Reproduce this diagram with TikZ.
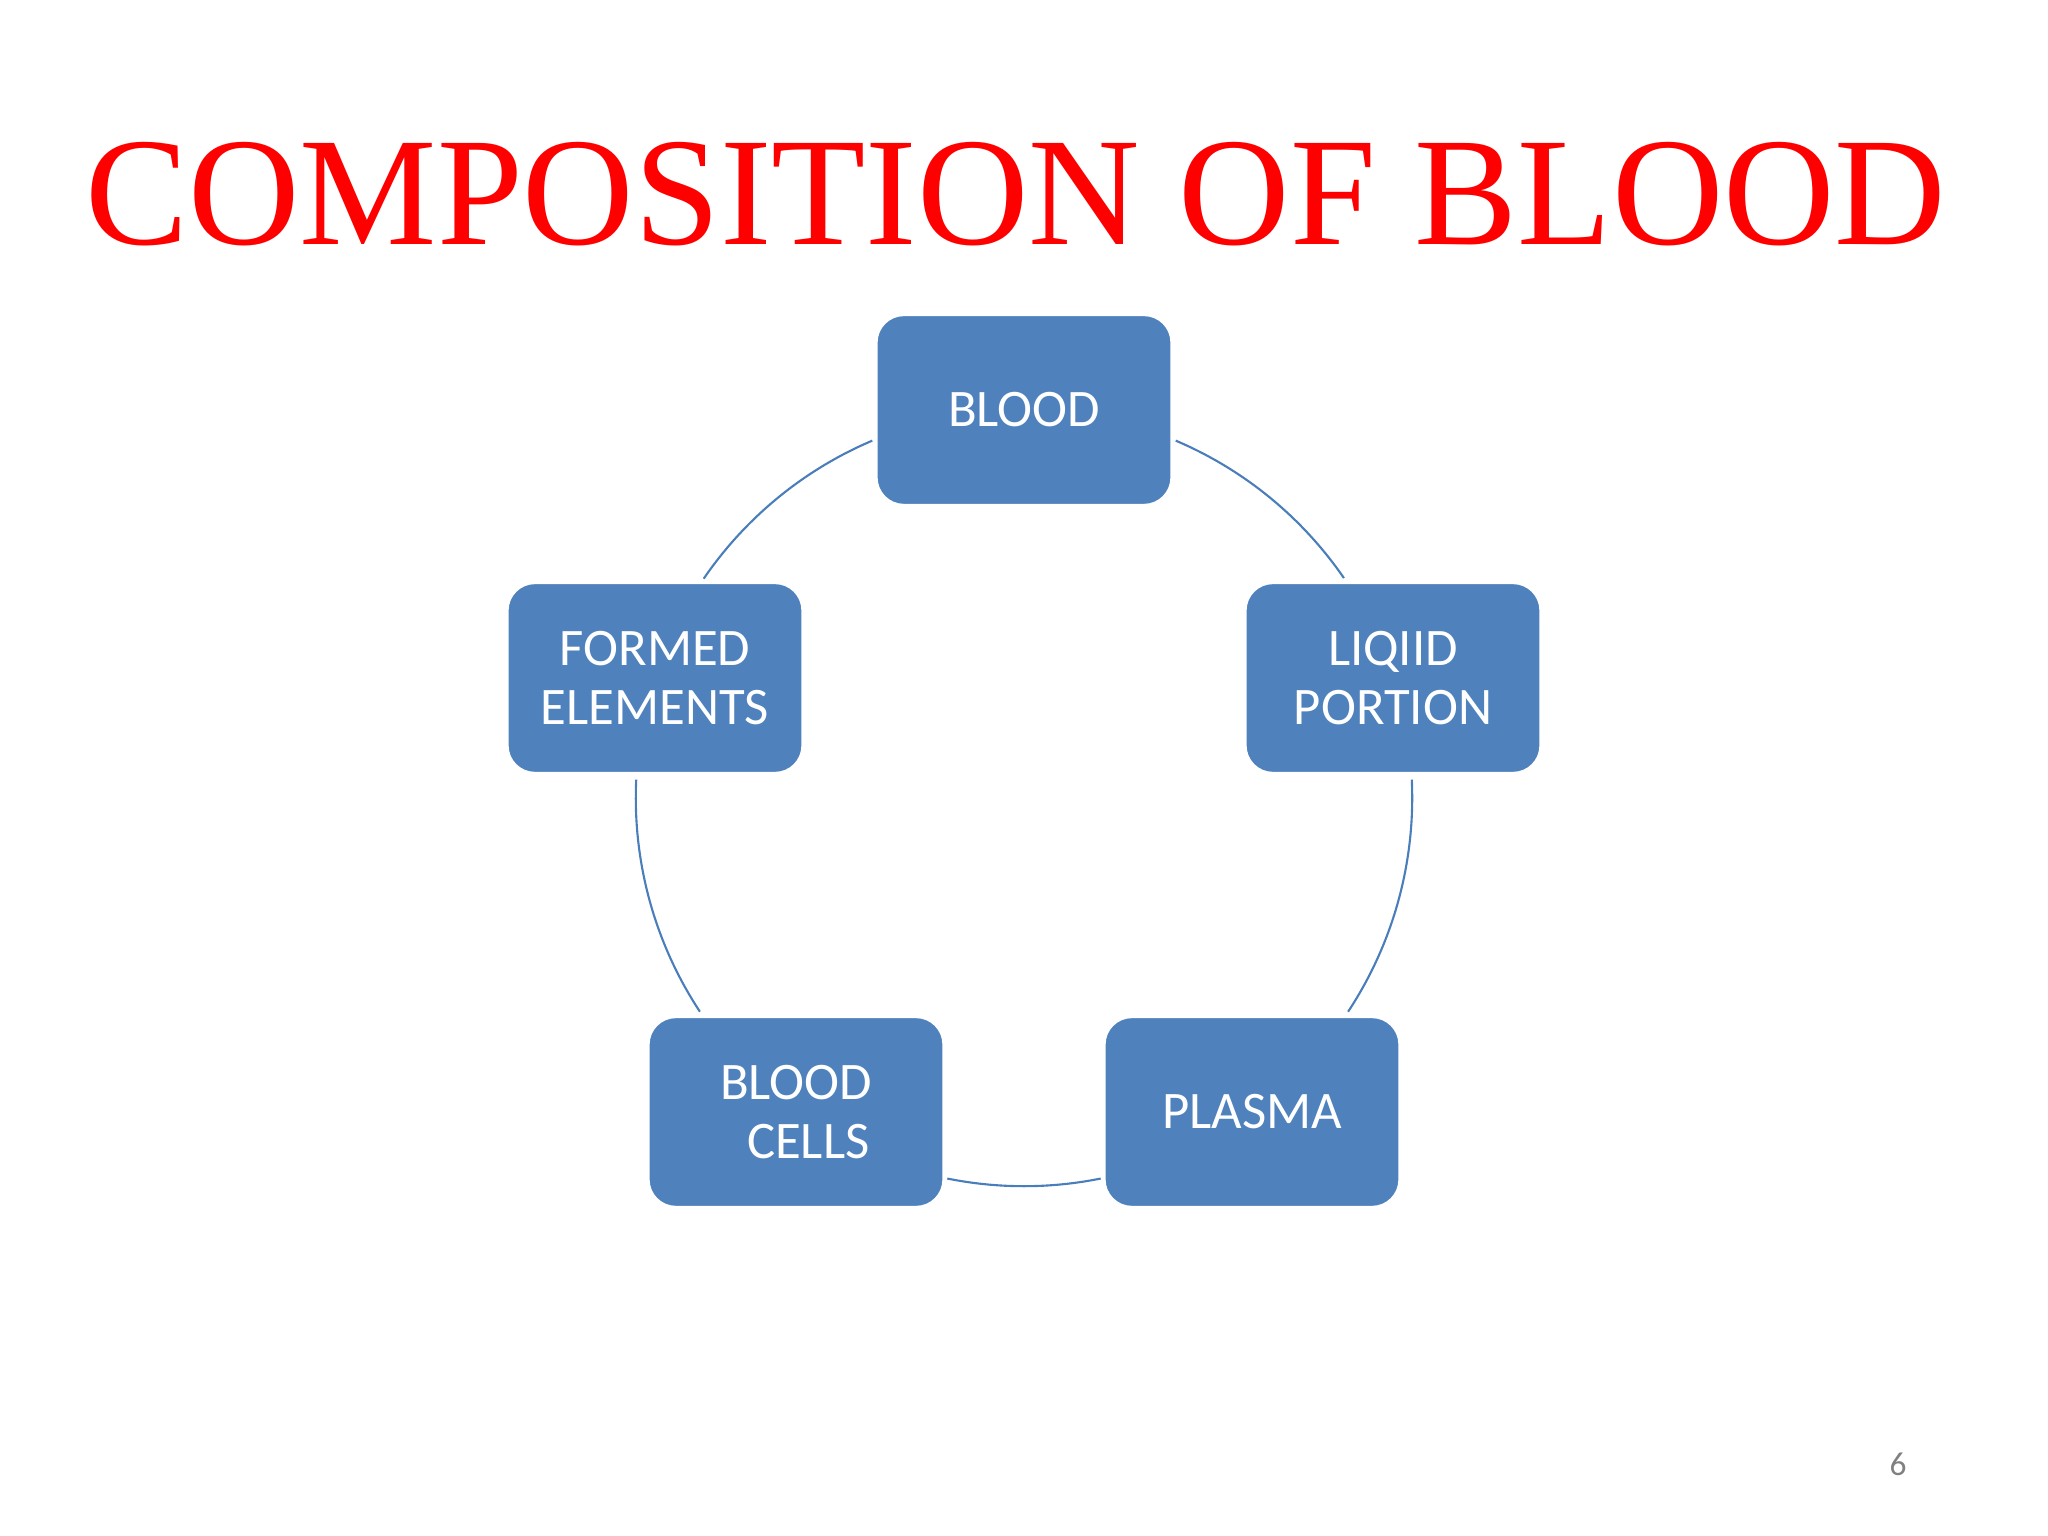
\documentclass[tikz,border=0pt]{standalone}
\usepackage{fontspec}
\setmainfont{Liberation Serif}
\newfontfamily\carlito{Carlito}
\usetikzlibrary{positioning}
\definecolor{cajaazul}{HTML}{4F81BD}
\definecolor{lineaazul}{HTML}{4A7EBB}
\tikzset{
  caja/.style={fill=cajaazul, draw=white, line width=0.4pt, rounded corners=0.27cm,
    minimum width=2.94cm, minimum height=1.89cm, align=center, text=white,
    font=\carlito\fontsize{15}{17}\selectfont},
  arco/.style={draw=lineaazul, line width=0.6pt}
}
\begin{document}
\begin{tikzpicture}[x=0.01cm, y=0.01cm]
\useasboundingbox (0,0) rectangle (2048,1536);
% Titulo
\node[anchor=base, text=red, font=\fontsize{43.9}{48}\selectfont, inner sep=0pt] (titulo) at (1016,1291) {COMPOSITION OF BLOOD};
% Cajas
\coordinate (ctr) at (1024,738);
\node[caja] (sangre) at (1024,1126) {BLOOD};
\node[caja] (liquido) at (1393,858) {LIQIID\\PORTION};
\node[caja] (plasma) at (1252,424) {PLASMA};
\node[caja] (celulas) at (796,424) {BLOOD\\\hspace*{7pt}CELLS};
\node[caja] (formados) at (655,858) {FORMED\\ELEMENTS};
% Arcos
\draw[arco] (ctr) ++(67:3.88cm) arc[start angle=67, end angle=34.5, radius=3.88cm];
\draw[arco] (ctr) ++(2.7:3.88cm) arc[start angle=2.7, end angle=-33.4, radius=3.88cm];
\draw[arco] (ctr) ++(-78.6:3.88cm) arc[start angle=-78.6, end angle=-101.4, radius=3.88cm];
\draw[arco] (ctr) ++(-146.6:3.88cm) arc[start angle=-146.6, end angle=-182.7, radius=3.88cm];
\draw[arco] (ctr) ++(145.6:3.88cm) arc[start angle=145.6, end angle=113, radius=3.88cm];
% Numero de pagina
\node[text=gray, font=\carlito\fontsize{9.5}{11}\selectfont] (pagina) at (1898,72) {6};
\end{tikzpicture}
\end{document}
